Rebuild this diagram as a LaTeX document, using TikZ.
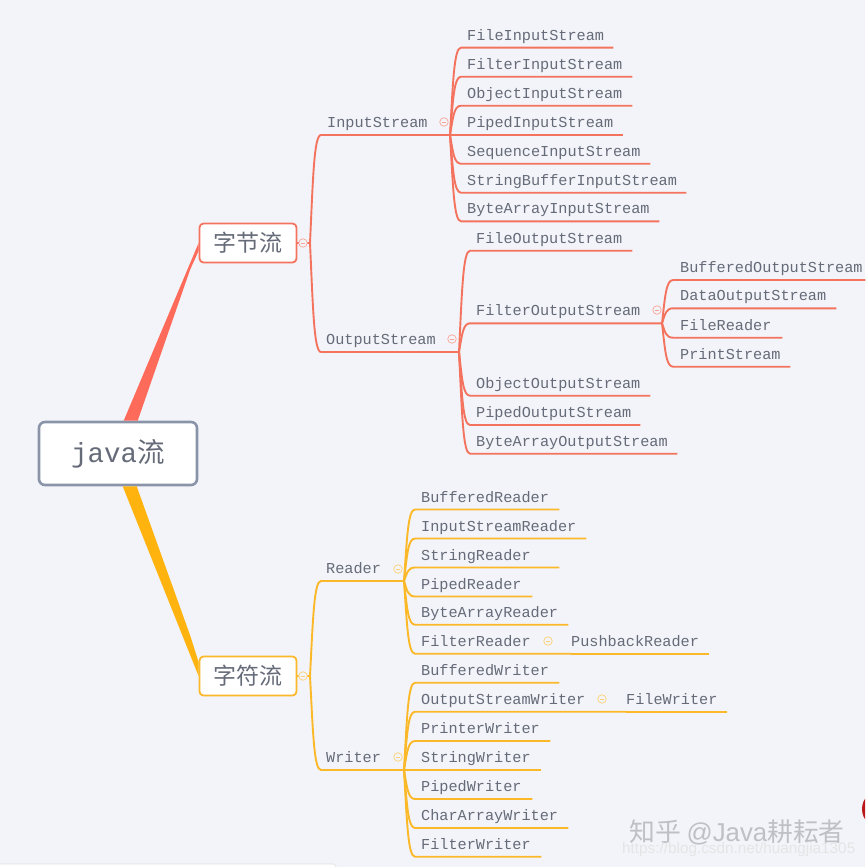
\documentclass[tikz,border=0pt]{standalone}
\usepackage{fontspec}
\setmainfont{Liberation Mono}
\newfontfamily\cjk{Noto Sans CJK SC}
\newfontfamily\wmfont{Liberation Sans}
\usetikzlibrary{calc}
\definecolor{bgc}{HTML}{F3F4F9}
\definecolor{redc}{HTML}{F4735F}
\definecolor{wedger}{HTML}{FF6B5A}
\definecolor{yelc}{HTML}{FBB829}
\definecolor{wedgey}{HTML}{FFB30F}
\definecolor{txtc}{HTML}{656B78}
\definecolor{rootc}{HTML}{8A94A8}
\definecolor{wmc}{HTML}{BFC0C6}
\tikzset{
  leaf/.style={inner sep=0pt,anchor=south west,align=left,text height=12pt,text depth=7.2pt,font=\fontsize{15.2}{16}\selectfont,text=txtc},
  rootbox/.style={draw=rootc,line width=2.6pt,fill=white,rounded corners=6pt,minimum width=158pt,minimum height=63pt,inner sep=0pt,text=txtc,font=\fontsize{27.5}{30}\selectfont},
  secbox/.style={line width=1.8pt,fill=white,rounded corners=4pt,minimum width=97pt,minimum height=39pt,inner sep=0pt,text=txtc,font=\cjk\fontsize{23}{26}\selectfont},
  tog/.style={circle,draw=#1!65,text=#1!65,fill=bgc,line width=0.7pt,minimum size=8.5pt,inner sep=0pt,font=\fontsize{5}{5}\selectfont},
  brline/.style={line width=1.9pt,line join=round}
}
\newcommand{\lf}[5]{\pgfmathsetmacro{\wdt}{#5-#3}\node[leaf,text width=\wdt pt] (#1) at (#3,#4) {#2};}
\newcommand{\br}[3]{\draw[brline,draw=#1] let \p1=(#2),\p2=(#3.south west) in (\p1) .. controls (\x1+3pt,{\y1+0.6*(\y2-\y1)}) and (\x1+4pt,\y2) .. (\x1+11pt,\y2) -- (#3.south east);}
\begin{document}
\begin{tikzpicture}[x=1pt,y=-1pt]
\useasboundingbox (0,0) rectangle (865,867);
\fill[bgc] (0,0) rectangle (865,867);
% bottom bar and red badge
\begin{scope}
\clip (0,0) rectangle (865,867);
\draw[fill=white,draw=black!12,line width=0.6pt,rounded corners=3pt] (-5,864) rectangle (336,875);
\fill[red!70!black!90!white] (881,809) circle (19);
\end{scope}
% main boxes
\node[rootbox] (root) at (118,453.5) {\raisebox{-1.5pt}{java{\cjk 流}}};
\node[secbox,draw=redc] (sec1) at (248,243) {字节流};
\node[secbox,draw=yelc] (sec2) at (248,676) {字符流};
\coordinate (r1a) at ($(root.north west)+(86,0)$);
\coordinate (r1b) at ($(root.north west)+(100,0)$);
\coordinate (r2a) at ($(root.south west)+(85,0)$);
\coordinate (r2b) at ($(root.south west)+(99,0)$);
\coordinate (s1t) at ($(sec1.west)+(0,8)$);
\coordinate (s2t) at ($(sec2.west)+(0,-14)$);
\fill[wedger] (r1a) -- (sec1.west) -- (s1t) -- (190,270) -- (r1b) -- cycle;
\fill[wedgey] (r2a) -- (sec2.west) -- (s2t) -- (190,635) -- (r2b) -- cycle;
% junctions
\coordinate (j1) at (310,243);
\coordinate (j2) at (310,676);
\coordinate (jin) at (450,135);
\coordinate (jout) at (459,352);
\coordinate (jfo) at (662,323.3);
\coordinate (jrd) at (404,581);
\coordinate (jwr) at (404,770);
\draw[brline,redc] (sec1.east) -- (j1);
\draw[brline,yelc] (sec2.east) -- (j2);
% level 2
\lf{ins}{InputStream}{327}{135}{450}
\lf{outs}{OutputStream}{326}{352}{459}
\lf{rd}{Reader}{326}{581}{404}
\lf{wr}{Writer}{326}{770}{404}
\br{redc}{j1}{ins}\br{redc}{j1}{outs}
\br{yelc}{j2}{rd}\br{yelc}{j2}{wr}
% input leaves
\lf{a1}{FileInputStream}{467}{47.7}{613}
\lf{a2}{FilterInputStream}{467}{76.7}{632}
\lf{a3}{ObjectInputStream}{467}{105.7}{632}
\lf{a4}{PipedInputStream}{467}{135}{623}
\lf{a5}{SequenceInputStream}{467}{163.7}{650}
\lf{a6}{StringBufferInputStream}{467}{192.7}{686}
\lf{a7}{ByteArrayInputStream}{467}{221.3}{659}
\foreach \lfn in {a1,a2,a3,a4,a5,a6,a7} {\br{redc}{jin}{\lfn}}
% output leaves
\lf{b1}{FileOutputStream}{476}{250.7}{632}
\lf{b2}{FilterOutputStream}{476}{323.3}{662}
\lf{b3}{ObjectOutputStream}{476}{395.7}{650}
\lf{b4}{PipedOutputStream}{476}{425}{640}
\lf{b5}{ByteArrayOutputStream}{476}{453.7}{677}
\foreach \lfn in {b1,b2,b3,b4,b5} {\br{redc}{jout}{\lfn}}
\lf{c1}{BufferedOutputStream}{680}{280}{865}
\lf{c2}{DataOutputStream}{680}{308.3}{836}
\lf{c3}{FileReader}{680}{337.7}{782}
\lf{c4}{PrintStream}{680}{366.7}{790}
\foreach \lfn in {c1,c2,c3,c4} {\br{redc}{jfo}{\lfn}}
% reader leaves
\lf{d1}{BufferedReader}{421}{509.5}{559}
\lf{d2}{InputStreamReader}{421}{538.5}{586}
\lf{d3}{StringReader}{421}{567.5}{559}
\lf{d4}{PipedReader}{421}{596.5}{532}
\lf{d5}{ByteArrayReader}{421}{624.7}{568}
\lf{d6}{FilterReader}{421}{653.7}{571}
\lf{d7}{PushbackReader}{571}{653.7}{709}
\foreach \lfn in {d1,d2,d3,d4,d5,d6} {\br{yelc}{jrd}{\lfn}}
\draw[brline,yelc] (d6.south east) -- (d7.south east);
% writer leaves
\lf{e1}{BufferedWriter}{421}{682.7}{559}
\lf{e2}{OutputStreamWriter}{421}{711.7}{626}
\lf{e3}{FileWriter}{626}{711.7}{727}
\lf{e4}{PrinterWriter}{421}{741}{550}
\lf{e5}{StringWriter}{421}{770}{541}
\lf{e6}{PipedWriter}{421}{799}{532}
\lf{e7}{CharArrayWriter}{421}{828}{568}
\lf{e8}{FilterWriter}{421}{856.7}{541}
\foreach \lfn in {e1,e2,e4,e5,e6,e7,e8} {\br{yelc}{jwr}{\lfn}}
\draw[brline,yelc] (e2.south east) -- (e3.south east);
% toggles
\foreach \nm/\tx/\ty in {t1/303/243,t2/444/122,t3/452/339,t4/657/310}
  \node[tog=redc] (\nm) at (\tx,\ty) {\rule[0.4pt]{3.6pt}{0.6pt}};
\foreach \nm/\tx/\ty in {t5/303/676,t6/398/569,t7/398/757,t8/548/641,t9/602/699}
  \node[tog=yelc] (\nm) at (\tx,\ty) {\rule[0.4pt]{3.6pt}{0.6pt}};
% watermarks
\node[anchor=west,inner sep=0pt,text=wmc,font=\cjk\fontsize{25.8}{28}\selectfont] (wm1) at (629,832.5) {知乎 {\wmfont @Java}耕耘者};
\node[anchor=west,inner sep=0pt,text=white!80!gray,font=\wmfont\fontsize{15.3}{17}\selectfont] (wm2) at (622,850) {https://blog.csdn.net/huangjia1305};
\end{tikzpicture}
\end{document}
